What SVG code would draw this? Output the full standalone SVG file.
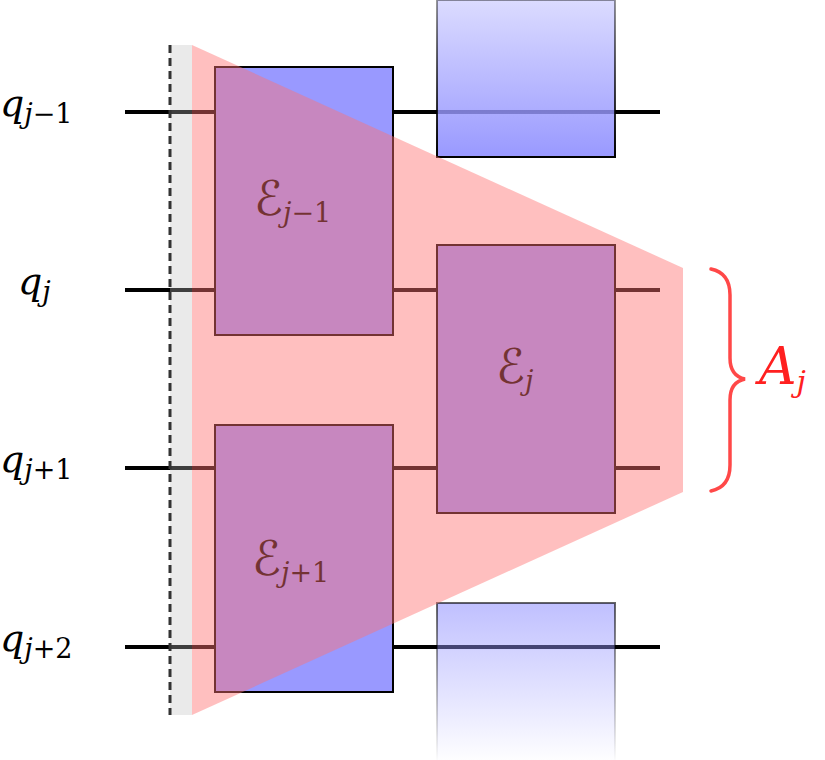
<svg xmlns="http://www.w3.org/2000/svg" width="825" height="760" viewBox="0 0 825 760">
<style>
.wire{stroke:#000;stroke-width:4;fill:none}
.box{fill:#9999ff;stroke:#000;stroke-width:2}
.lbl{font-family:"DejaVu Serif",serif;font-style:italic;fill:#000}
.cal{font-family:"DejaVu Serif","DejaVu Sans",serif;font-size:48px;fill:#000}
.sub{font-family:"DejaVu Serif",serif;font-size:27px;font-style:italic}
.up{font-style:normal}
</style>
<defs>
<linearGradient id="gTopF" x1="0" y1="0" x2="0" y2="1"><stop offset="0" stop-color="#9999ff" stop-opacity="0.35"/><stop offset="1" stop-color="#9999ff" stop-opacity="1"/></linearGradient>
<linearGradient id="gTopS" x1="0" y1="0" x2="0" y2="1"><stop offset="0" stop-color="#000" stop-opacity="0.4"/><stop offset="1" stop-color="#000" stop-opacity="1"/></linearGradient>
<linearGradient id="gBotF" x1="0" y1="0" x2="0" y2="1"><stop offset="0" stop-color="#9999ff" stop-opacity="0.62"/><stop offset="1" stop-color="#9999ff" stop-opacity="0"/></linearGradient>
<linearGradient id="gBotS" x1="0" y1="0" x2="0" y2="1"><stop offset="0" stop-color="#000" stop-opacity="0.6"/><stop offset="1" stop-color="#000" stop-opacity="0"/></linearGradient>
</defs>
<rect width="825" height="760" fill="#fff"/>
<g id="connectors">
<line class="wire" x1="125" y1="112" x2="660" y2="112"/>
<line class="wire" x1="125" y1="290" x2="660" y2="290"/>
<line class="wire" x1="125" y1="468" x2="660" y2="468"/>
<line class="wire" x1="125" y1="647" x2="660" y2="647"/>
</g>
<g id="E_jm1">
<rect class="box" x="215" y="67" width="178" height="268"/>
<text class="cal" x="254" y="215">ℰ<tspan class="sub" dy="7">j</tspan><tspan class="sub up">−1</tspan></text>
</g>
<g id="E_j">
<rect class="box" x="437" y="245" width="178" height="268"/>
<text class="cal" x="496" y="383">ℰ<tspan class="sub" dy="7">j</tspan></text>
</g>
<g id="E_jp1">
<rect class="box" x="215" y="425" width="178" height="267"/>
<text class="cal" x="252" y="575">ℰ<tspan class="sub" dy="7">j</tspan><tspan class="sub up">+1</tspan></text>
</g>
<g id="fade_top">
<rect x="437" y="0" width="178" height="157" fill="url(#gTopF)" stroke="url(#gTopS)" stroke-width="2"/>
</g>
<g id="fade_bottom">
<rect x="437" y="603" width="178" height="160" fill="url(#gBotF)" stroke="url(#gBotS)" stroke-width="2"/>
</g>
<g id="cut">
<rect x="170" y="45" width="22" height="670" fill="#bebebe" fill-opacity="0.33"/>
<line x1="170" y1="45" x2="170" y2="715" stroke="#333" stroke-width="3" stroke-dasharray="8 5"/>
</g>
<g id="region_A">
<polygon points="192,45 683,268 683,492 192,715" fill="#ff7070" fill-opacity="0.45"/>
<path d="M711,269 Q730,273 730,295 L730,358 Q730,376 745,379 Q730,382 730,400 L730,465 Q730,487 711,491" fill="none" stroke="#ff4848" stroke-width="3.5" stroke-linecap="round"/>
<text x="759" y="384" font-family="DejaVu Serif,serif" font-style="italic" font-size="52" fill="#ff2020">A<tspan font-size="30" dy="8">j</tspan></text>
</g>
<g id="labels">
<text class="lbl" x="0" y="116" font-size="38">q<tspan font-size="27" dy="7">j</tspan><tspan class="up" font-size="27">−1</tspan></text>
<text class="lbl" x="18" y="294" font-size="38">q<tspan font-size="27" dy="7">j</tspan></text>
<text class="lbl" x="0" y="472" font-size="38">q<tspan font-size="27" dy="7">j</tspan><tspan class="up" font-size="27">+1</tspan></text>
<text class="lbl" x="0" y="651" font-size="38">q<tspan font-size="27" dy="7">j</tspan><tspan class="up" font-size="27">+2</tspan></text>
</g>
</svg>
